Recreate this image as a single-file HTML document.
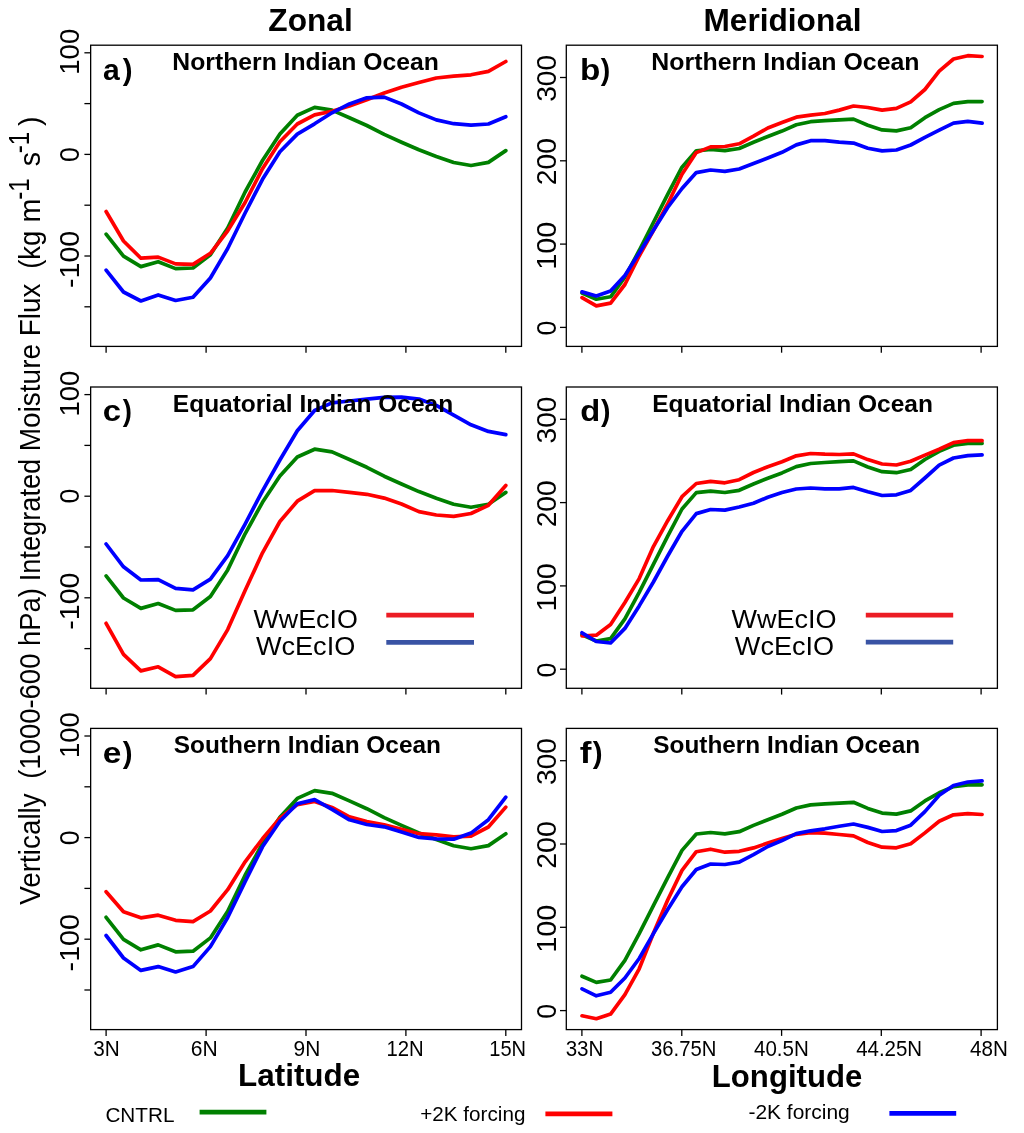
<!DOCTYPE html>
<html><head><meta charset="utf-8"><title>Moisture flux</title>
<style>
html,body{margin:0;padding:0;background:#fff;}
body{width:1024px;height:1133px;overflow:hidden;font-family:"Liberation Sans",sans-serif;}
svg{display:block;will-change:transform;}
</style></head>
<body>
<svg width="1024" height="1133" viewBox="0 0 1024 1133">
<rect width="1024" height="1133" fill="#fff"/>
<g fill="none" stroke-width="3.7" stroke-linejoin="round" stroke-linecap="round">
<polyline stroke="#008000" points="106.1,234.1 123.5,256.2 140.9,266.6 158.2,261.7 175.6,268.6 193.0,268.0 210.4,254.7 227.7,228.1 245.1,192.0 262.5,160.5 279.9,134.1 297.3,115.2 314.6,107.4 332.0,110.1 349.4,117.7 366.8,125.5 384.2,134.4 401.5,142.2 418.9,149.8 436.3,156.4 453.7,162.5 471.0,165.5 488.4,162.4 505.8,150.6"/>
<polyline stroke="#ff0000" points="106.1,211.5 123.5,241.0 140.9,258.2 158.2,257.1 175.6,263.9 193.0,264.4 210.4,253.3 227.7,230.8 245.1,202.5 262.5,168.7 279.9,141.7 297.3,124.0 314.6,114.9 332.0,111.2 349.4,106.0 366.8,99.8 384.2,93.0 401.5,87.2 418.9,82.5 436.3,78.0 453.7,76.1 471.0,74.8 488.4,71.4 505.8,61.5"/>
<polyline stroke="#0000ff" points="106.1,270.1 123.5,292.0 140.9,301.0 158.2,294.9 175.6,300.5 193.0,297.3 210.4,278.0 227.7,248.5 245.1,213.0 262.5,179.3 279.9,151.8 297.3,134.1 314.6,123.8 332.0,112.8 349.4,103.9 366.8,97.8 384.2,97.1 401.5,104.0 418.9,112.9 436.3,119.9 453.7,123.7 471.0,125.2 488.4,124.0 505.8,116.7"/>
<polyline stroke="#008000" points="582.0,293.0 596.3,299.2 610.6,296.8 624.9,277.1 639.2,250.5 653.4,222.5 667.7,194.4 682.0,167.2 696.3,150.8 710.6,149.3 724.9,150.7 739.2,148.5 753.5,142.2 767.8,136.5 782.0,131.1 796.3,124.8 810.6,121.7 824.9,120.7 839.2,119.9 853.5,119.1 867.8,125.2 882.1,129.9 896.4,130.9 910.7,127.7 924.9,117.7 939.2,109.6 953.5,103.4 967.8,101.7 982.1,101.6"/>
<polyline stroke="#ff0000" points="582.0,297.7 596.3,305.9 610.6,303.1 624.9,284.5 639.2,256.0 653.4,230.5 667.7,204.0 682.0,174.2 696.3,152.6 710.6,146.9 724.9,146.5 739.2,143.8 753.5,136.2 767.8,128.0 782.0,122.5 796.3,117.2 810.6,115.1 824.9,113.5 839.2,110.1 853.5,106.0 867.8,107.5 882.1,110.1 896.4,108.4 910.7,101.9 924.9,89.5 939.2,71.2 953.5,59.0 967.8,55.7 982.1,56.5"/>
<polyline stroke="#0000ff" points="582.0,291.9 596.3,296.0 610.6,291.0 624.9,275.5 639.2,253.0 653.4,230.2 667.7,207.5 682.0,188.5 696.3,172.6 710.6,170.0 724.9,171.4 739.2,169.0 753.5,163.6 767.8,158.1 782.0,152.3 796.3,144.9 810.6,140.7 824.9,140.7 839.2,142.1 853.5,143.1 867.8,148.2 882.1,150.9 896.4,150.0 910.7,145.0 924.9,137.3 939.2,130.2 953.5,123.2 967.8,121.4 982.1,123.2"/>
<polyline stroke="#008000" points="106.1,575.9 123.5,598.0 140.9,608.4 158.2,603.5 175.6,610.4 193.0,609.8 210.4,596.5 227.7,569.9 245.1,533.8 262.5,502.3 279.9,475.9 297.3,457.0 314.6,449.2 332.0,451.9 349.4,459.5 366.8,467.3 384.2,476.2 401.5,484.0 418.9,491.6 436.3,498.2 453.7,504.3 471.0,507.3 488.4,504.2 505.8,492.4"/>
<polyline stroke="#ff0000" points="106.1,623.3 123.5,654.3 140.9,670.9 158.2,666.8 175.6,676.6 193.0,675.4 210.4,658.6 227.7,629.6 245.1,590.6 262.5,552.8 279.9,521.5 297.3,501.2 314.6,490.6 332.0,490.5 349.4,492.4 366.8,494.3 384.2,498.1 401.5,504.0 418.9,511.6 436.3,515.0 453.7,516.3 471.0,513.5 488.4,505.3 505.8,485.5"/>
<polyline stroke="#0000ff" points="106.1,544.0 123.5,566.8 140.9,580.0 158.2,579.6 175.6,588.3 193.0,589.8 210.4,579.2 227.7,555.7 245.1,524.1 262.5,490.8 279.9,460.0 297.3,430.8 314.6,410.5 332.0,402.9 349.4,401.0 366.8,399.1 384.2,397.4 401.5,397.2 418.9,399.1 436.3,405.4 453.7,415.2 471.0,424.8 488.4,431.4 505.8,434.6"/>
<polyline stroke="#008000" points="582.0,634.8 596.3,641.0 610.6,638.6 624.9,618.9 639.2,592.3 653.4,564.3 667.7,536.2 682.0,509.0 696.3,492.6 710.6,491.1 724.9,492.5 739.2,490.3 753.5,484.0 767.8,478.3 782.0,472.9 796.3,466.6 810.6,463.5 824.9,462.5 839.2,461.7 853.5,460.9 867.8,467.0 882.1,471.7 896.4,472.7 910.7,469.5 924.9,459.5 939.2,451.4 953.5,445.2 967.8,443.5 982.1,443.4"/>
<polyline stroke="#ff0000" points="582.0,636.0 596.3,635.2 610.6,624.5 624.9,602.5 639.2,578.6 653.4,546.6 667.7,520.7 682.0,496.7 696.3,483.5 710.6,481.4 724.9,482.8 739.2,479.7 753.5,472.5 767.8,466.7 782.0,461.8 796.3,455.8 810.6,453.5 824.9,454.2 839.2,454.5 853.5,453.9 867.8,459.6 882.1,464.0 896.4,465.0 910.7,461.3 924.9,455.1 939.2,449.3 953.5,442.6 967.8,440.7 982.1,440.7"/>
<polyline stroke="#0000ff" points="582.0,632.8 596.3,641.5 610.6,643.0 624.9,628.4 639.2,605.9 653.4,582.0 667.7,556.0 682.0,531.3 696.3,513.6 710.6,509.5 724.9,510.1 739.2,507.0 753.5,503.2 767.8,497.2 782.0,492.5 796.3,489.0 810.6,488.0 824.9,488.8 839.2,488.8 853.5,487.4 867.8,491.8 882.1,495.5 896.4,494.8 910.7,490.4 924.9,478.0 939.2,465.1 953.5,458.0 967.8,455.7 982.1,454.9"/>
<polyline stroke="#008000" points="106.1,917.3 123.5,939.4 140.9,949.8 158.2,944.9 175.6,951.8 193.0,951.2 210.4,937.9 227.7,911.3 245.1,875.2 262.5,843.7 279.9,817.3 297.3,798.4 314.6,790.6 332.0,793.3 349.4,800.9 366.8,808.7 384.2,817.6 401.5,825.4 418.9,833.0 436.3,839.6 453.7,845.7 471.0,848.7 488.4,845.6 505.8,833.8"/>
<polyline stroke="#ff0000" points="106.1,891.7 123.5,911.8 140.9,917.8 158.2,915.2 175.6,920.3 193.0,921.6 210.4,911.0 227.7,889.7 245.1,861.8 262.5,838.8 279.9,818.1 297.3,804.6 314.6,801.4 332.0,807.5 349.4,816.9 366.8,821.6 384.2,824.8 401.5,829.2 418.9,833.7 436.3,834.9 453.7,836.8 471.0,836.2 488.4,827.0 505.8,807.1"/>
<polyline stroke="#0000ff" points="106.1,935.5 123.5,958.0 140.9,970.4 158.2,966.6 175.6,972.0 193.0,966.6 210.4,946.6 227.7,917.5 245.1,881.7 262.5,846.8 279.9,821.3 297.3,803.8 314.6,799.6 332.0,809.3 349.4,819.8 366.8,824.5 384.2,826.8 401.5,832.1 418.9,837.4 436.3,838.8 453.7,839.2 471.0,833.1 488.4,819.7 505.8,797.1"/>
<polyline stroke="#008000" points="582.0,976.2 596.3,982.4 610.6,980.0 624.9,960.3 639.2,933.7 653.4,905.7 667.7,877.6 682.0,850.4 696.3,834.0 710.6,832.5 724.9,833.9 739.2,831.7 753.5,825.4 767.8,819.7 782.0,814.3 796.3,808.0 810.6,804.9 824.9,803.9 839.2,803.1 853.5,802.3 867.8,808.4 882.1,813.1 896.4,814.1 910.7,810.9 924.9,800.9 939.2,792.8 953.5,786.6 967.8,784.9 982.1,784.8"/>
<polyline stroke="#ff0000" points="582.0,1015.8 596.3,1018.7 610.6,1014.1 624.9,994.6 639.2,968.8 653.4,933.3 667.7,900.0 682.0,870.4 696.3,851.7 710.6,849.2 724.9,852.2 739.2,851.3 753.5,847.9 767.8,843.1 782.0,838.6 796.3,834.3 810.6,832.6 824.9,833.2 839.2,834.5 853.5,835.9 867.8,842.5 882.1,847.2 896.4,847.8 910.7,843.8 924.9,832.9 939.2,821.2 953.5,814.8 967.8,813.7 982.1,814.5"/>
<polyline stroke="#0000ff" points="582.0,988.9 596.3,995.8 610.6,992.3 624.9,978.0 639.2,958.5 653.4,933.7 667.7,909.5 682.0,886.8 696.3,869.5 710.6,864.0 724.9,864.5 739.2,862.2 753.5,854.7 767.8,846.5 782.0,840.5 796.3,833.6 810.6,830.8 824.9,828.8 839.2,826.3 853.5,824.0 867.8,827.4 882.1,831.5 896.4,830.6 910.7,825.2 924.9,811.6 939.2,795.2 953.5,785.5 967.8,782.0 982.1,780.9"/>
</g>
<g fill="none" stroke="#000" stroke-width="1.3">
<rect x="90.65" y="45.2" width="430.85" height="301.20"/>
<rect x="90.65" y="387.0" width="430.85" height="301.30"/>
<rect x="90.65" y="728.4" width="430.85" height="301.20"/>
<rect x="566.3" y="45.2" width="431.10" height="301.20"/>
<rect x="566.3" y="387.0" width="431.10" height="301.30"/>
<rect x="566.3" y="728.4" width="431.10" height="301.20"/>
<line x1="106.1" y1="346.4" x2="106.1" y2="352.7"/>
<line x1="206.1" y1="346.4" x2="206.1" y2="352.7"/>
<line x1="306.0" y1="346.4" x2="306.0" y2="352.7"/>
<line x1="405.9" y1="346.4" x2="405.9" y2="352.7"/>
<line x1="505.8" y1="346.4" x2="505.8" y2="352.7"/>
<line x1="581.9" y1="346.4" x2="581.9" y2="352.7"/>
<line x1="681.8" y1="346.4" x2="681.8" y2="352.7"/>
<line x1="781.6" y1="346.4" x2="781.6" y2="352.7"/>
<line x1="881.3" y1="346.4" x2="881.3" y2="352.7"/>
<line x1="981.1" y1="346.4" x2="981.1" y2="352.7"/>
<line x1="84.4" y1="52.8" x2="90.65" y2="52.8"/>
<line x1="84.4" y1="103.6" x2="90.65" y2="103.6"/>
<line x1="84.4" y1="154.4" x2="90.65" y2="154.4"/>
<line x1="84.4" y1="205.2" x2="90.65" y2="205.2"/>
<line x1="84.4" y1="256.0" x2="90.65" y2="256.0"/>
<line x1="84.4" y1="306.8" x2="90.65" y2="306.8"/>
<line x1="560.0" y1="327.4" x2="566.3" y2="327.4"/>
<line x1="560.0" y1="244.1" x2="566.3" y2="244.1"/>
<line x1="560.0" y1="160.8" x2="566.3" y2="160.8"/>
<line x1="560.0" y1="77.5" x2="566.3" y2="77.5"/>
<line x1="106.1" y1="688.3" x2="106.1" y2="694.6"/>
<line x1="206.1" y1="688.3" x2="206.1" y2="694.6"/>
<line x1="306.0" y1="688.3" x2="306.0" y2="694.6"/>
<line x1="405.9" y1="688.3" x2="405.9" y2="694.6"/>
<line x1="505.8" y1="688.3" x2="505.8" y2="694.6"/>
<line x1="581.9" y1="688.3" x2="581.9" y2="694.6"/>
<line x1="681.8" y1="688.3" x2="681.8" y2="694.6"/>
<line x1="781.6" y1="688.3" x2="781.6" y2="694.6"/>
<line x1="881.3" y1="688.3" x2="881.3" y2="694.6"/>
<line x1="981.1" y1="688.3" x2="981.1" y2="694.6"/>
<line x1="84.4" y1="394.6" x2="90.65" y2="394.6"/>
<line x1="84.4" y1="445.4" x2="90.65" y2="445.4"/>
<line x1="84.4" y1="496.2" x2="90.65" y2="496.2"/>
<line x1="84.4" y1="547.0" x2="90.65" y2="547.0"/>
<line x1="84.4" y1="597.8" x2="90.65" y2="597.8"/>
<line x1="84.4" y1="648.6" x2="90.65" y2="648.6"/>
<line x1="560.0" y1="669.2" x2="566.3" y2="669.2"/>
<line x1="560.0" y1="585.9" x2="566.3" y2="585.9"/>
<line x1="560.0" y1="502.6" x2="566.3" y2="502.6"/>
<line x1="560.0" y1="419.3" x2="566.3" y2="419.3"/>
<line x1="106.1" y1="1029.6" x2="106.1" y2="1035.9"/>
<line x1="206.1" y1="1029.6" x2="206.1" y2="1035.9"/>
<line x1="306.0" y1="1029.6" x2="306.0" y2="1035.9"/>
<line x1="405.9" y1="1029.6" x2="405.9" y2="1035.9"/>
<line x1="505.8" y1="1029.6" x2="505.8" y2="1035.9"/>
<line x1="581.9" y1="1029.6" x2="581.9" y2="1035.9"/>
<line x1="681.8" y1="1029.6" x2="681.8" y2="1035.9"/>
<line x1="781.6" y1="1029.6" x2="781.6" y2="1035.9"/>
<line x1="881.3" y1="1029.6" x2="881.3" y2="1035.9"/>
<line x1="981.1" y1="1029.6" x2="981.1" y2="1035.9"/>
<line x1="84.4" y1="736.0" x2="90.65" y2="736.0"/>
<line x1="84.4" y1="786.8" x2="90.65" y2="786.8"/>
<line x1="84.4" y1="837.6" x2="90.65" y2="837.6"/>
<line x1="84.4" y1="888.4" x2="90.65" y2="888.4"/>
<line x1="84.4" y1="939.2" x2="90.65" y2="939.2"/>
<line x1="84.4" y1="990.0" x2="90.65" y2="990.0"/>
<line x1="560.0" y1="1010.6" x2="566.3" y2="1010.6"/>
<line x1="560.0" y1="927.3" x2="566.3" y2="927.3"/>
<line x1="560.0" y1="844.0" x2="566.3" y2="844.0"/>
<line x1="560.0" y1="760.7" x2="566.3" y2="760.7"/>
</g>
<g font-family="Liberation Sans, sans-serif" fill="#000">
<text id="zonal" font-size="30.7" font-weight="bold" textLength="84.43" lengthAdjust="spacingAndGlyphs" x="268.30" y="31.10">Zonal</text>
<text id="merid" font-size="30.7" font-weight="bold" textLength="158.09" lengthAdjust="spacingAndGlyphs" x="703.50" y="31.30">Meridional</text>
<text id="tit00" font-size="23.4" font-weight="bold" textLength="266.52" lengthAdjust="spacingAndGlyphs" x="172.35" y="70.20">Northern Indian Ocean</text>
<text id="tit01" font-size="23.4" font-weight="bold" textLength="268.20" lengthAdjust="spacingAndGlyphs" x="651.35" y="70.20">Northern Indian Ocean</text>
<text id="tit10" font-size="23.4" font-weight="bold" textLength="280.31" lengthAdjust="spacingAndGlyphs" x="172.85" y="412.00">Equatorial Indian Ocean</text>
<text id="tit11" font-size="23.4" font-weight="bold" textLength="280.66" lengthAdjust="spacingAndGlyphs" x="652.25" y="412.00">Equatorial Indian Ocean</text>
<text id="tit20" font-size="23.4" font-weight="bold" textLength="267.12" lengthAdjust="spacingAndGlyphs" x="173.85" y="753.40">Southern Indian Ocean</text>
<text id="tit21" font-size="23.4" font-weight="bold" textLength="266.83" lengthAdjust="spacingAndGlyphs" x="653.25" y="753.40">Southern Indian Ocean</text>
<text id="yl0_100" font-size="26.8" textLength="46.02" lengthAdjust="spacingAndGlyphs" x="0" y="0" transform="translate(78.60,74.77) rotate(-90)">100</text>
<text id="yl0_0" font-size="26.8" x="0" y="0" transform="translate(78.60,161.96) rotate(-90)">0</text>
<text id="yl0_-100" font-size="26.8" textLength="57.26" lengthAdjust="spacingAndGlyphs" x="0" y="0" transform="translate(78.60,288.01) rotate(-90)">-100</text>
<text id="yr0_0" font-size="26.8" x="0" y="0" transform="translate(556.00,335.60) rotate(-90)">0</text>
<text id="yr0_100" font-size="26.8" textLength="48.14" lengthAdjust="spacingAndGlyphs" x="0" y="0" transform="translate(556.00,269.78) rotate(-90)">100</text>
<text id="yr0_200" font-size="26.8" textLength="47.22" lengthAdjust="spacingAndGlyphs" x="0" y="0" transform="translate(556.00,185.32) rotate(-90)">200</text>
<text id="yr0_300" font-size="26.8" textLength="46.99" lengthAdjust="spacingAndGlyphs" x="0" y="0" transform="translate(556.00,101.80) rotate(-90)">300</text>
<text id="yl1_100" font-size="26.8" textLength="46.02" lengthAdjust="spacingAndGlyphs" x="0" y="0" transform="translate(78.60,416.57) rotate(-90)">100</text>
<text id="yl1_0" font-size="26.8" x="0" y="0" transform="translate(78.60,503.51) rotate(-90)">0</text>
<text id="yl1_-100" font-size="26.8" textLength="57.27" lengthAdjust="spacingAndGlyphs" x="0" y="0" transform="translate(78.60,629.81) rotate(-90)">-100</text>
<text id="yr1_0" font-size="26.8" x="0" y="0" transform="translate(556.00,677.40) rotate(-90)">0</text>
<text id="yr1_100" font-size="26.8" textLength="48.18" lengthAdjust="spacingAndGlyphs" x="0" y="0" transform="translate(556.00,611.38) rotate(-90)">100</text>
<text id="yr1_200" font-size="26.8" textLength="47.22" lengthAdjust="spacingAndGlyphs" x="0" y="0" transform="translate(556.00,527.37) rotate(-90)">200</text>
<text id="yr1_300" font-size="26.8" textLength="46.86" lengthAdjust="spacingAndGlyphs" x="0" y="0" transform="translate(556.00,443.46) rotate(-90)">300</text>
<text id="yl2_100" font-size="26.8" textLength="45.78" lengthAdjust="spacingAndGlyphs" x="0" y="0" transform="translate(78.60,757.99) rotate(-90)">100</text>
<text id="yl2_0" font-size="26.8" x="0" y="0" transform="translate(78.60,845.15) rotate(-90)">0</text>
<text id="yl2_-100" font-size="26.8" textLength="57.51" lengthAdjust="spacingAndGlyphs" x="0" y="0" transform="translate(78.60,971.44) rotate(-90)">-100</text>
<text id="yr2_0" font-size="26.8" x="0" y="0" transform="translate(556.00,1018.80) rotate(-90)">0</text>
<text id="yr2_100" font-size="26.8" textLength="48.14" lengthAdjust="spacingAndGlyphs" x="0" y="0" transform="translate(556.00,952.75) rotate(-90)">100</text>
<text id="yr2_200" font-size="26.8" textLength="47.48" lengthAdjust="spacingAndGlyphs" x="0" y="0" transform="translate(556.00,868.77) rotate(-90)">200</text>
<text id="yr2_300" font-size="26.8" textLength="46.99" lengthAdjust="spacingAndGlyphs" x="0" y="0" transform="translate(556.00,785.00) rotate(-90)">300</text>
<text id="xl0" font-size="21.4" textLength="26.51" lengthAdjust="spacingAndGlyphs" x="93.25" y="1056.00">3N</text>
<text id="xl1" font-size="21.4" textLength="26.93" lengthAdjust="spacingAndGlyphs" x="190.70" y="1056.00">6N</text>
<text id="xl2" font-size="21.4" textLength="26.73" lengthAdjust="spacingAndGlyphs" x="293.60" y="1056.00">9N</text>
<text id="xl3" font-size="21.4" textLength="37.20" lengthAdjust="spacingAndGlyphs" x="386.40" y="1056.00">12N</text>
<text id="xl4" font-size="21.4" textLength="36.80" lengthAdjust="spacingAndGlyphs" x="489.30" y="1056.00">15N</text>
<text id="xr0" font-size="21.4" textLength="37.77" lengthAdjust="spacingAndGlyphs" x="565.65" y="1056.00">33N</text>
<text id="xr1" font-size="21.4" textLength="65.43" lengthAdjust="spacingAndGlyphs" x="650.95" y="1056.00">36.75N</text>
<text id="xr2" font-size="21.4" textLength="54.79" lengthAdjust="spacingAndGlyphs" x="754.00" y="1056.00">40.5N</text>
<text id="xr3" font-size="21.4" textLength="66.01" lengthAdjust="spacingAndGlyphs" x="856.15" y="1056.00">44.25N</text>
<text id="xr4" font-size="21.4" textLength="37.84" lengthAdjust="spacingAndGlyphs" x="970.10" y="1056.00">48N</text>
<text id="lat" font-size="31.0" font-weight="bold" textLength="122.19" lengthAdjust="spacingAndGlyphs" x="238.05" y="1086.30">Latitude</text>
<text id="lon" font-size="31.0" font-weight="bold" textLength="150.42" lengthAdjust="spacingAndGlyphs" x="711.85" y="1086.60">Longitude</text>
<text id="lgw0" font-size="25.7" textLength="104.42" lengthAdjust="spacingAndGlyphs" x="253.40" y="628.00">WwEcIO</text>
<text id="lgc0" font-size="25.7" textLength="99.42" lengthAdjust="spacingAndGlyphs" x="255.90" y="654.80">WcEcIO</text>
<text id="lgw1" font-size="25.7" textLength="105.09" lengthAdjust="spacingAndGlyphs" x="731.45" y="628.00">WwEcIO</text>
<text id="lgc1" font-size="25.7" textLength="99.24" lengthAdjust="spacingAndGlyphs" x="734.85" y="654.80">WcEcIO</text>
<text id="bl0" font-size="20.6" textLength="69.06" lengthAdjust="spacingAndGlyphs" x="105.40" y="1122.20">CNTRL</text>
<text id="bl1" font-size="20.6" textLength="105.08" lengthAdjust="spacingAndGlyphs" x="420.30" y="1121.00">+2K forcing</text>
<text id="bl2" font-size="20.6" textLength="101.33" lengthAdjust="spacingAndGlyphs" x="748.45" y="1119.30">-2K forcing</text>
<text id="yt0" font-size="28.6" textLength="111.55" lengthAdjust="spacingAndGlyphs" x="0" y="0" transform="translate(39.60,904.83) rotate(-90)">Vertically</text>
<text id="yt1" font-size="28.6" textLength="190.61" lengthAdjust="spacingAndGlyphs" x="0" y="0" transform="translate(39.60,778.66) rotate(-90)">(1000-600 hPa)</text>
<text id="yt2" font-size="28.6" textLength="122.61" lengthAdjust="spacingAndGlyphs" x="0" y="0" transform="translate(39.60,581.36) rotate(-90)">Integrated</text>
<text id="yt3" font-size="28.6" textLength="107.28" lengthAdjust="spacingAndGlyphs" x="0" y="0" transform="translate(39.60,451.22) rotate(-90)">Moisture</text>
<text id="yt4" font-size="28.6" textLength="52.59" lengthAdjust="spacingAndGlyphs" x="0" y="0" transform="translate(39.60,336.19) rotate(-90)">Flux</text>
<text id="yt5" font-size="28.6" textLength="38.09" lengthAdjust="spacingAndGlyphs" x="0" y="0" transform="translate(39.60,268.84) rotate(-90)">(kg</text>
<text id="yt6" font-size="28.6" x="0" y="0" transform="translate(39.60,222.62) rotate(-90)">m</text>
<text id="yt7" font-size="28.6" textLength="21.69" lengthAdjust="spacingAndGlyphs" x="0" y="0" transform="translate(29.00,199.79) rotate(-90)">-1</text>
<text id="yt8" font-size="28.6" x="0" y="0" transform="translate(39.60,166.30) rotate(-90)">s</text>
<text id="yt9" font-size="28.6" textLength="21.69" lengthAdjust="spacingAndGlyphs" x="0" y="0" transform="translate(29.00,153.29) rotate(-90)">-1</text>
<text id="yt10" font-size="28.6" x="0" y="0" transform="translate(39.60,125.98) rotate(-90)">)</text>
<text id="labl0" font-size="30.3" font-weight="bold" textLength="16.78" lengthAdjust="spacingAndGlyphs" x="103.00" y="79.50">a</text>
<text id="labp0" font-size="30.3" font-weight="bold" textLength="9.79" lengthAdjust="spacingAndGlyphs" x="122.70" y="79.50">)</text>
<text id="labl1" font-size="30.3" font-weight="bold" textLength="20.35" lengthAdjust="spacingAndGlyphs" x="579.95" y="79.50">b</text>
<text id="labp1" font-size="30.3" font-weight="bold" textLength="9.48" lengthAdjust="spacingAndGlyphs" x="600.85" y="79.50">)</text>
<text id="labl2" font-size="30.3" font-weight="bold" textLength="18.33" lengthAdjust="spacingAndGlyphs" x="102.75" y="421.30">c</text>
<text id="labp2" font-size="30.3" font-weight="bold" textLength="9.18" lengthAdjust="spacingAndGlyphs" x="122.70" y="421.30">)</text>
<text id="labl3" font-size="30.3" font-weight="bold" textLength="19.99" lengthAdjust="spacingAndGlyphs" x="580.15" y="421.30">d</text>
<text id="labp3" font-size="30.3" font-weight="bold" textLength="9.48" lengthAdjust="spacingAndGlyphs" x="601.05" y="421.30">)</text>
<text id="labl4" font-size="30.3" font-weight="bold" textLength="18.63" lengthAdjust="spacingAndGlyphs" x="102.75" y="762.70">e</text>
<text id="labp4" font-size="30.3" font-weight="bold" textLength="9.79" lengthAdjust="spacingAndGlyphs" x="122.70" y="762.70">)</text>
<text id="labl5" font-size="30.3" font-weight="bold" textLength="11.72" lengthAdjust="spacingAndGlyphs" x="579.70" y="762.70">f</text>
<text id="labp5" font-size="30.3" font-weight="bold" textLength="9.84" lengthAdjust="spacingAndGlyphs" x="592.85" y="762.70">)</text>
</g>
<g stroke-width="4.8" fill="none">
<line x1="386.3" y1="615.2" x2="474" y2="615.2" stroke="#ec1c24"/>
<line x1="386.3" y1="642.4" x2="474" y2="642.4" stroke="#3953a4"/>
<line x1="865.8" y1="615.2" x2="953.2" y2="615.2" stroke="#ec1c24"/>
<line x1="865.8" y1="642.2" x2="953.2" y2="642.2" stroke="#3953a4"/>
<line x1="199.6" y1="1112.2" x2="266.4" y2="1112.2" stroke="#008000"/>
<line x1="545.4" y1="1113.9" x2="612.4" y2="1113.9" stroke="#ff0000"/>
<line x1="889.4" y1="1113.4" x2="956.2" y2="1113.4" stroke="#0000ff"/>
</g>
</svg>
</body></html>
